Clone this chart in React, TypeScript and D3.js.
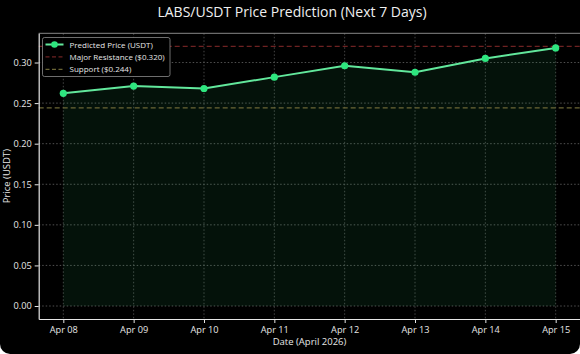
import React, { useEffect, useRef } from "react";
import * as d3 from "d3";

// chart data
const dates = ["Apr 08", "Apr 09", "Apr 10", "Apr 11", "Apr 12", "Apr 13", "Apr 14", "Apr 15"];
const predicted = [0.262, 0.271, 0.268, 0.282, 0.296, 0.288, 0.305, 0.318];
const resistance = 0.32;
const support = 0.244;
const yTicks = [0, 0.05, 0.1, 0.15, 0.2, 0.25, 0.3];

const W = 580;
const H = 354;

function App() {
  const ref = useRef<SVGSVGElement>(null);

  useEffect(() => {
    const svg = d3.select(ref.current);
    svg.selectAll("*").remove();

    const margin = { top: 33.3, right: -0.3, bottom: 35, left: 38.7 };
    const innerW = W - margin.left - margin.right;
    const innerH = H - margin.top - margin.bottom;
    const font = "'Open Sans', Roboto, sans-serif";

    // background with rounded bottom corners
    svg.append("rect").attr("width", W).attr("height", H).attr("fill", "#ffffff");
    svg.append("rect").attr("width", W).attr("height", H).attr("rx", 10).attr("fill", "#000000");
    svg.append("rect").attr("width", W).attr("height", H - 20).attr("fill", "#000000");

    svg
      .append("text")
      .attr("x", 292)
      .attr("y", 17)
      .attr("text-anchor", "middle")
      .attr("fill", "#f0f0f0")
      .style("font-family", font)
      .style("font-size", "14px")
      .text("LABS/USDT Price Prediction (Next 7 Days)");

    const g = svg.append("g").attr("transform", `translate(${margin.left},${margin.top})`);

    const x = d3.scaleLinear().domain([-0.35, dates.length - 1 + 0.35]).range([0, innerW]);
    const y = d3.scaleLinear().domain([-0.016, 0.336]).range([innerH, 0]);

    // grid
    g.selectAll(".hgrid")
      .data(yTicks)
      .enter()
      .append("line")
      .attr("x1", 0)
      .attr("x2", innerW)
      .attr("y1", (d) => y(d))
      .attr("y2", (d) => y(d))
      .attr("stroke", "#666")
      .attr("stroke-width", 0.8)
      .attr("stroke-dasharray", "1.5,2");
    g.selectAll(".vgrid")
      .data(dates)
      .enter()
      .append("line")
      .attr("x1", (d, i) => x(i))
      .attr("x2", (d, i) => x(i))
      .attr("y1", 0)
      .attr("y2", innerH)
      .attr("stroke", "#555")
      .attr("stroke-width", 0.8)
      .attr("stroke-dasharray", "1.5,2");

    // fill under the prediction
    const area = d3
      .area<number>()
      .x((d, i) => x(i))
      .y0(y(0))
      .y1((d) => y(d));
    g.append("path").datum(predicted).attr("d", area).attr("fill", "rgba(46, 204, 113, 0.09)");

    // reference lines
    g.append("line")
      .attr("x1", 0)
      .attr("x2", innerW)
      .attr("y1", y(resistance))
      .attr("y2", y(resistance))
      .attr("stroke", "#6e2222")
      .attr("stroke-width", 1.3)
      .attr("stroke-dasharray", "5,3");
    g.append("line")
      .attr("x1", 0)
      .attr("x2", innerW)
      .attr("y1", y(support))
      .attr("y2", y(support))
      .attr("stroke", "#6b6636")
      .attr("stroke-width", 1.3)
      .attr("stroke-dasharray", "5,3");

    // prediction line
    const line = d3
      .line<number>()
      .x((d, i) => x(i))
      .y((d) => y(d));
    g.append("path")
      .datum(predicted)
      .attr("d", line)
      .attr("fill", "none")
      .attr("stroke", "#62e89c")
      .attr("stroke-width", 2);
    g.selectAll(".dot")
      .data(predicted)
      .enter()
      .append("circle")
      .attr("cx", (d, i) => x(i))
      .attr("cy", (d) => y(d))
      .attr("r", 3.6)
      .attr("fill", "#2ee67f");

    // frame
    g.append("line").attr("x1", 0).attr("x2", innerW).attr("y1", 0).attr("y2", 0).attr("stroke", "#888").attr("stroke-width", 1);

    // axes
    const xAxis = g
      .append("g")
      .attr("transform", `translate(0,${innerH})`)
      .call(
        d3
          .axisBottom(x)
          .tickValues(d3.range(dates.length))
          .tickFormat((d) => dates[d as number])
          .tickSizeInner(4)
          .tickSizeOuter(0)
          .tickPadding(3)
      );
    const yAxis = g.append("g").call(
      d3
        .axisLeft(y)
        .tickValues(yTicks)
        .tickFormat(d3.format(".2f"))
        .tickSizeInner(4)
        .tickSizeOuter(0)
        .tickPadding(3)
    );
    [xAxis, yAxis].forEach((ax) => {
      ax.select(".domain").attr("stroke", "#e6e6e6").attr("stroke-width", 1.2);
      ax.selectAll(".tick line").attr("stroke", "#e6e6e6");
      ax.selectAll("text").attr("fill", "#e6e6e6").style("font-family", font).style("font-size", "9.2px");
    });

    svg
      .append("text")
      .attr("x", margin.left + innerW / 2)
      .attr("y", 345)
      .attr("text-anchor", "middle")
      .attr("fill", "#e6e6e6")
      .style("font-family", font)
      .style("font-size", "9.5px")
      .text("Date (April 2026)");
    svg
      .append("text")
      .attr("transform", `translate(10,${margin.top + innerH / 2}) rotate(-90)`)
      .attr("text-anchor", "middle")
      .attr("fill", "#e6e6e6")
      .style("font-family", font)
      .style("font-size", "9.5px")
      .text("Price (USDT)");

    // legend
    const leg = svg.append("g").attr("transform", "translate(42.5,37.5)");
    leg.append("rect")
      .attr("width", 127.5)
      .attr("height", 39)
      .attr("rx", 2)
      .attr("fill", "#000")
      .attr("stroke", "#8a8a8a")
      .attr("stroke-width", 0.8);
    const items = [
      { label: "Predicted Price (USDT)", color: "#62e89c", dash: null },
      { label: "Major Resistance ($0.320)", color: "#6e2222", dash: "4,2.5" },
      { label: "Support ($0.244)", color: "#6b6636", dash: "4,2.5" },
    ];
    items.forEach((it, i) => {
      const ry = 7 + i * 12.4;
      leg.append("line")
        .attr("x1", 3)
        .attr("x2", 21)
        .attr("y1", ry)
        .attr("y2", ry)
        .attr("stroke", it.color)
        .attr("stroke-width", it.dash ? 1.2 : 2)
        .attr("stroke-dasharray", it.dash);
      if (!it.dash) leg.append("circle").attr("cx", 12).attr("cy", ry).attr("r", 3.3).attr("fill", "#2ee67f");
      leg.append("text")
        .attr("x", 27)
        .attr("y", ry + 3)
        .attr("fill", "#e6e6e6")
        .style("font-family", font)
        .style("font-size", "8px")
        .text(it.label);
    });
  }, []);

  return <svg ref={ref} width={W} height={H} style={{ display: "block", position: "absolute", left: 0, top: 0 }} />;
}

export default App;
